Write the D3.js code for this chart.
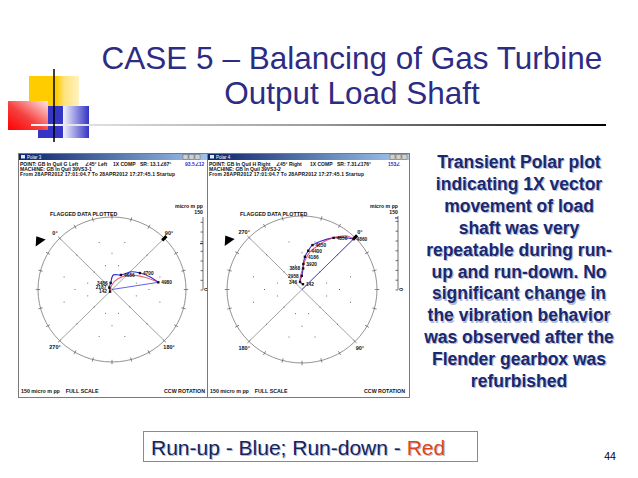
<!DOCTYPE html>
<html>
<head>
<meta charset="utf-8">
<script src="https://cdn.jsdelivr.net/npm/d3@7"></script>
<style>
  body { margin: 0; background: #fff; }
  svg { display: block; font-family: "Liberation Sans", Arial, sans-serif; }
</style>
</head>
<body>
<svg id="slide" width="638" height="478"></svg>
<script>
// ---- slide text ----
const titleLines = ["CASE 5 \u2013 Balancing of Gas Turbine", "Output Load Shaft"];
const noteLines = [
  "Transient Polar plot", "indicating 1X vector", "movement of load", "shaft was very",
  "repeatable during run-", "up and run-down. No", "significant change in",
  "the vibration behavior", "was observed after the", "Flender gearbox was", "refurbished"
];
const legendParts = ["Run-up - Blue; Run-down - ", "Red"];
const pageNumber = "44";

// ---- Polar 3 (left window), amplitude in micro m pp, phase in degrees ----
const p3Header = ["POINT: GB In Quil G Left", "\u222045\u00b0 Left", "1X COMP", "SR: 13.1\u222067\u00b0", "93.5\u222012"];
const p3Machine = "MACHINE: GB In Quil 39VS3-1";
const p3Phases = ["0\u00b0", "90\u00b0", "180\u00b0", "270\u00b0"];
const p3UpRpm   = [142, 2187, 3486, 4200, 4686, 4692, 4700, 4850, 4980];
const p3UpAmp   = [6, 6.6, 14, 30, 35, 54, 66, 81, 95];
const p3UpPhase = [267, 350, 34, 50, 76, 92, 104, 116, 126];
const p3DownAmp   = [95, 71, 47, 26, 9, 6];
const p3DownPhase = [126, 114, 96, 74, 41, 267];
const p3Labelled  = [142, 2187, 3486, 4686, 4700, 4980];
const p3LabelLeft = [142, 2187, 3486];

// ---- Polar 4 (right window) ----
const p4Header = ["POINT: GB In Quil H Right", "\u222045\u00b0 Right", "1X COMP", "SR: 7.31\u2220176\u00b0", "153\u2220"];
const p4Machine = "MACHINE: GB In Quil 39VS3-2";
const p4Phases = ["270\u00b0", "0\u00b0", "90\u00b0", "180\u00b0"];
const p4UpRpm   = [142, 346, 2958, 3868, 3920, 4186, 4400, 4650, 4850, 4860];
const p4UpAmp   = [11, 16, 28, 43, 52, 67, 80, 93, 123, 146];
const p4UpPhase = [325, 301, 314, 318, 318, 320, 324, 328, 346, 0];
const p4DownAmp   = [146, 141, 128, 112, 96, 79, 60, 36, 16, 11];
const p4DownPhase = [0, 354, 348, 341, 335, 327, 321, 314, 301, 325];
const p4Labelled  = [142, 346, 2958, 3868, 3920, 4186, 4400, 4650, 4850, 4860];
const p4LabelLeft = [346, 2958, 3868];

const timeSpan = "From 28APR2012 17:01:04.7 To 28APR2012 17:27:45.1 Startup";
const fullScale = 150;

const svg = d3.select("#slide");
const defs = svg.append("defs");

function linGrad(id, x2, y1, y2, stops) {
  const g = defs.append("linearGradient").attr("id", id)
    .attr("x1", 0).attr("y1", y1).attr("x2", x2).attr("y2", y2);
  stops.forEach(s => g.append("stop").attr("offset", s[0]).attr("stop-color", s[1]));
}
linGrad("yel", 1, 0, 0, [[0, "#ffcc00"], [0.55, "#ffcc00"], [0.7, "#ffe27a"], [1, "#fff2c0"]]);
linGrad("red", 1, 1, 0, [[0, "#ff0000"], [0.45, "#f54040"], [1, "#ffe6e6"]]);
linGrad("lblue", 1, 0, 0, [[0, "#f4f4ff"], [1, "#3434c4"]]);
linGrad("rule", 1, 0, 0, [[0, "#f2f2f2"], [0.5, "#9a9a9a"], [1, "#000"]]);
linGrad("tbar", 1, 0, 0, [[0, "#0a246a"], [1, "#a6caf0"]]);

// ---- decoration and title ----
svg.append("rect").attr("x", 29).attr("y", 76).attr("width", 50).attr("height", 40).attr("fill", "url(#yel)");
svg.append("rect").attr("x", 38).attr("y", 106).attr("width", 25).attr("height", 32).attr("fill", "#3636c6");
svg.append("rect").attr("x", 63).attr("y", 106).attr("width", 26).attr("height", 32).attr("fill", "url(#lblue)");
svg.append("rect").attr("x", 8).attr("y", 101).attr("width", 40).attr("height", 29).attr("fill", "url(#red)");
svg.append("rect").attr("x", 31).attr("y", 124).attr("width", 575).attr("height", 2).attr("fill", "url(#rule)");
svg.append("line").attr("x1", 54).attr("x2", 54).attr("y1", 69).attr("y2", 142)
  .attr("stroke", "#000").attr("stroke-width", 1.5);

svg.append("g").selectAll("text").data(titleLines).join("text")
  .attr("x", 352).attr("y", (d, i) => 69 + i * 34.5)
  .attr("text-anchor", "middle").attr("font-size", 31.5).attr("fill", "#2c2c84")
  .text(d => d);

// ---- note on the right ----
const note = svg.append("g").attr("font-size", 17.5).attr("font-weight", "bold").attr("text-anchor", "middle");
[["#b4bccf", 1.2], ["#1a2870", 0]].forEach(([c, off]) => {
  note.append("g").selectAll("text").data(noteLines).join("text")
    .attr("x", 519 + off).attr("y", (d, i) => 168 + off + i * 21.9)
    .attr("fill", c).text(d => d);
});

// ---- legend box ----
svg.append("rect").attr("x", 143.5).attr("y", 431.5).attr("width", 334).attr("height", 30)
  .attr("fill", "#fff").attr("stroke", "#8a8a8a");
[["#b4bccf", 1], [null, 0]].forEach(([c, off]) => {
  const t = svg.append("text").attr("x", 151 + off).attr("y", 455 + off).attr("font-size", 21);
  t.append("tspan").attr("fill", c || "#14245e").text(legendParts[0]);
  t.append("tspan").attr("fill", c || "#d8481c").text(legendParts[1]);
});
svg.append("text").attr("x", 610).attr("y", 460).attr("text-anchor", "middle")
  .attr("font-size", 10.5).attr("fill", "#000").text(pageNumber);

// ---- polar window ----
function drawPolar(cfg) {
  const g = svg.append("g");
  const { wx, ww } = cfg;
  g.append("rect").attr("x", wx + 0.5).attr("y", 153.5).attr("width", ww).attr("height", 244)
    .attr("fill", "#fff").attr("stroke", "#7a7a7a");
  g.append("rect").attr("x", wx + 1).attr("y", 154).attr("width", ww - 1).attr("height", 6).attr("fill", "url(#tbar)");
  g.append("rect").attr("x", wx + 3).attr("y", 155).attr("width", 4).attr("height", 3.5).attr("fill", "#dfe8f8");
  g.append("text").attr("x", wx + 9).attr("y", 159).attr("font-size", 4.5).attr("fill", "#fff").text(cfg.name);
  [0, 1, 2].forEach(k => {
    g.append("rect").attr("x", wx + cfg.btnX + k * 6).attr("y", 154.6).attr("width", 5).attr("height", 4.6)
      .attr("fill", "#d4d0c8").attr("stroke", "#555").attr("stroke-width", 0.4);
  });

  const hdr = g.append("g").attr("font-size", 5).attr("font-weight", "bold").attr("fill", "#111");
  hdr.selectAll("text.h").data(cfg.header).join("text").attr("class", "h")
    .attr("x", (d, i) => wx + cfg.hx[i]).attr("y", 166)
    .attr("fill", (d, i) => i === 4 ? "#3030d0" : "#111").text(d => d);
  hdr.append("text").attr("x", wx + 2).attr("y", 171).text(cfg.machine);
  hdr.append("text").attr("x", wx + 2).attr("y", 176).attr("textLength", 155).text(timeSpan);

  const x = d3.scaleLinear().domain([-fullScale, fullScale]).range([cfg.cx - cfg.rx, cfg.cx + cfg.rx]);
  const y = d3.scaleLinear().domain([-fullScale, fullScale]).range([cfg.cy + cfg.ry, cfg.cy - cfg.ry]);
  const rad = deg => deg * Math.PI / 180;
  const px = (a, p) => x(a * Math.cos(rad(cfg.zero - p)));
  const py = (a, p) => y(a * Math.sin(rad(cfg.zero - p)));
  const onAngle = (r, ang) => [x(r * Math.cos(rad(ang))), y(r * Math.sin(rad(ang)))];

  // circle, ticks, diagonals
  g.append("ellipse").attr("cx", cfg.cx).attr("cy", cfg.cy).attr("rx", cfg.rx).attr("ry", cfg.ry)
    .attr("fill", "none").attr("stroke", "#777").attr("stroke-width", 0.8);
  g.append("g").selectAll("line").data(d3.range(0, 360, 15)).join("line")
    .attr("x1", d => onAngle(fullScale * 0.97, d)[0]).attr("y1", d => onAngle(fullScale * 0.97, d)[1])
    .attr("x2", d => onAngle(fullScale * 1.03, d)[0]).attr("y2", d => onAngle(fullScale * 1.03, d)[1])
    .attr("stroke", "#555").attr("stroke-width", 0.7);
  g.append("g").selectAll("line").data([45, 135]).join("line")
    .attr("x1", d => onAngle(fullScale, d)[0]).attr("y1", d => onAngle(fullScale, d)[1])
    .attr("x2", d => onAngle(fullScale, d + 180)[0]).attr("y2", d => onAngle(fullScale, d + 180)[1])
    .attr("stroke", "#8a8a8a").attr("stroke-width", 0.8);
  const dots = [];
  [0.34, 0.67].forEach(r => d3.range(0, 360, 30).forEach(a => dots.push(onAngle(fullScale * r, a + 15))));
  d3.range(0, 360, 90).forEach(a => dots.push(onAngle(fullScale * 0.5, a)));
  g.append("g").selectAll("rect").data(dots).join("rect")
    .attr("x", d => d[0] - 0.5).attr("y", d => d[1] - 0.5).attr("width", 1).attr("height", 1).attr("fill", "#666");

  // phase labels at NW, NE, SE, SW
  const lab = g.append("g").attr("font-size", 5.5).attr("font-weight", "bold").attr("fill", "#111").attr("text-anchor", "middle");
  [135, 45, -45, -135].forEach((a, i) => {
    const p = onAngle(fullScale * 1.09, a);
    lab.append("text").attr("x", p[0]).attr("y", p[1] + (a > 0 ? 1 : 4)).text(cfg.phases[i]);
  });

  // flagged data text, rotation arrow, flag block
  g.append("text").attr("x", cfg.cx - 62).attr("y", cfg.cy - 74).attr("font-size", 5.3)
    .attr("font-weight", "bold").attr("fill", "#111").text("FLAGGED DATA PLOTTED");
  const ap = onAngle(fullScale * 1.18, 146);
  g.append("path").attr("d", "M-5,-4 L5,-4 L-2,6 Z").attr("fill", "#000")
    .attr("transform", `translate(${ap[0]},${ap[1]}) rotate(20)`);
  const bp = onAngle(fullScale, 45);
  g.append("rect").attr("x", -3).attr("y", -1.5).attr("width", 6).attr("height", 3).attr("fill", "#000")
    .attr("transform", `translate(${bp[0]},${bp[1]}) rotate(-45)`);

  // amplitude scale bar
  const s = d3.scaleLinear().domain([0, fullScale]).range([cfg.cy, cfg.cy - cfg.ry]);
  const ax = g.append("g").attr("transform", `translate(${cfg.sx},0)`)
    .call(d3.axisLeft(s).tickValues(d3.range(0, fullScale + 1, 20)).tickSize(2.5).tickFormat(""));
  ax.selectAll("path, line").attr("stroke", "#333").attr("stroke-width", 0.7);
  ax.select(".domain").attr("d", `M0,${s(0)}V${s(fullScale)}`);
  g.append("line").attr("x1", cfg.sx - 3).attr("x2", cfg.sx).attr("y1", s(cfg.upAmp[cfg.upAmp.length - 1]))
    .attr("y2", s(cfg.upAmp[cfg.upAmp.length - 1])).attr("stroke", "#3030d0").attr("stroke-width", 1.2);
  const sc = g.append("g").attr("font-size", 5.2).attr("font-weight", "bold").attr("fill", "#111").attr("text-anchor", "end");
  sc.append("text").attr("x", cfg.sx).attr("y", 208).text("micro m pp");
  sc.append("text").attr("x", cfg.sx).attr("y", 214).text(fullScale);
  sc.append("text").attr("transform", `translate(${cfg.sx + 1},${cfg.cy}) rotate(90)`)
    .attr("text-anchor", "middle").text("0");

  // run-up (blue), current vector, run-down (red)
  const line = d3.line().curve(d3.curveCatmullRom.alpha(0.5));
  const up = cfg.upAmp.map((a, i) => [px(a, cfg.upPhase[i]), py(a, cfg.upPhase[i])]);
  const down = cfg.downAmp.map((a, i) => [px(a, cfg.downPhase[i]), py(a, cfg.downPhase[i])]);
  const last = up[up.length - 1];
  g.append("line").attr("x1", x(0)).attr("y1", y(0)).attr("x2", last[0]).attr("y2", last[1])
    .attr("stroke", "#3a3ae0").attr("stroke-width", 0.8);
  g.append("path").attr("d", line(up)).attr("fill", "none").attr("stroke", "#2a2ad8").attr("stroke-width", 1.1);
  g.append("path").attr("d", line(down)).attr("fill", "none").attr("stroke", "#f03050")
    .attr("stroke-opacity", 0.8).attr("stroke-width", 1.1);

  // rpm markers and labels
  const pts = cfg.upRpm.map((r, i) => ({ r, X: up[i][0], Y: up[i][1] })).filter(d => cfg.labelled.includes(d.r));
  g.append("g").selectAll("rect").data(pts).join("rect")
    .attr("x", d => d.X - 1.2).attr("y", d => d.Y - 1.2).attr("width", 2.4).attr("height", 2.4).attr("fill", "#111");
  g.append("g").attr("font-size", 4.8).attr("font-weight", "bold").attr("fill", "#111")
    .selectAll("text").data(pts).join("text")
    .attr("x", d => cfg.labelLeft.includes(d.r) ? d.X - 3 : d.X + 3)
    .attr("y", d => d.Y + 1.8)
    .attr("text-anchor", d => cfg.labelLeft.includes(d.r) ? "end" : "start")
    .text(d => d.r);

  g.append("text").attr("x", wx + 3).attr("y", 393).attr("font-size", 5.3).attr("font-weight", "bold")
    .attr("fill", "#111").attr("xml:space", "preserve").text("150 micro m pp    FULL SCALE");
  g.append("text").attr("x", wx + cfg.endX).attr("y", 393).attr("font-size", 5.3).attr("font-weight", "bold")
    .attr("fill", "#111").attr("text-anchor", "end").text("CCW ROTATION");
}

drawPolar({
  name: "Polar 3", wx: 18, ww: 197, btnX: 165, endX: 187, hx: [2, 67, 95, 122, 167],
  header: p3Header, machine: p3Machine, phases: p3Phases,
  cx: 112, cy: 289.5, rx: 74, ry: 72.5, zero: 135, sx: 203,
  upRpm: p3UpRpm, upAmp: p3UpAmp, upPhase: p3UpPhase,
  downAmp: p3DownAmp, downPhase: p3DownPhase,
  labelled: p3Labelled, labelLeft: p3LabelLeft
});
drawPolar({
  name: "Polar 4", wx: 207, ww: 202, btnX: 183, endX: 198, hx: [2, 69, 103, 130, 181],
  header: p4Header, machine: p4Machine, phases: p4Phases,
  cx: 302, cy: 289.5, rx: 75, ry: 73.5, zero: 45, sx: 398,
  upRpm: p4UpRpm, upAmp: p4UpAmp, upPhase: p4UpPhase,
  downAmp: p4DownAmp, downPhase: p4DownPhase,
  labelled: p4Labelled, labelLeft: p4LabelLeft
});
</script>
</body>
</html>
